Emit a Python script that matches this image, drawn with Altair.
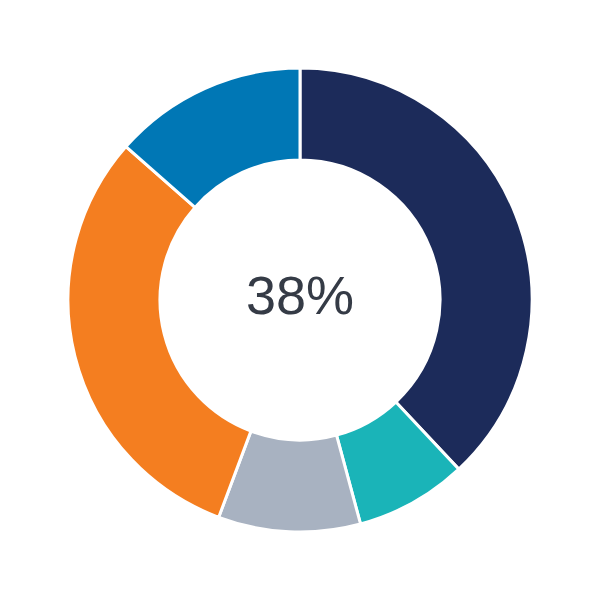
import altair as alt
import pandas as pd

categories = ["A", "B", "C", "D", "E"]
values = [38, 7.8, 9.9, 30.8, 13.5]
colors = ["#1c2b5a", "#1ab4b8", "#a8b2c1", "#f47e20", "#0077b5"]
center_label = ["38%"]

df = pd.DataFrame({"cat": categories, "val": values, "order": list(range(len(values)))})

arc = alt.Chart(df).mark_arc(outerRadius=232, innerRadius=140, stroke="white", strokeWidth=3).encode(
    theta=alt.Theta("val:Q", stack=True),
    color=alt.Color("cat:N", scale=alt.Scale(domain=categories, range=colors), legend=None),
    order=alt.Order("order:Q"),
)

text = alt.Chart(pd.DataFrame({"t": center_label})).mark_text(
    fontSize=54, font="Liberation Sans", color="#353b46", baseline="middle", align="center", dy=-2
).encode(text="t:N")

chart = alt.layer(arc, text).properties(
    width=584, height=584, padding=0,
    autosize=alt.AutoSizeParams(type="fit", contains="padding"),
).configure_view(stroke=None)

chart.save("out.html", embed_options={"renderer": "svg", "actions": False})
